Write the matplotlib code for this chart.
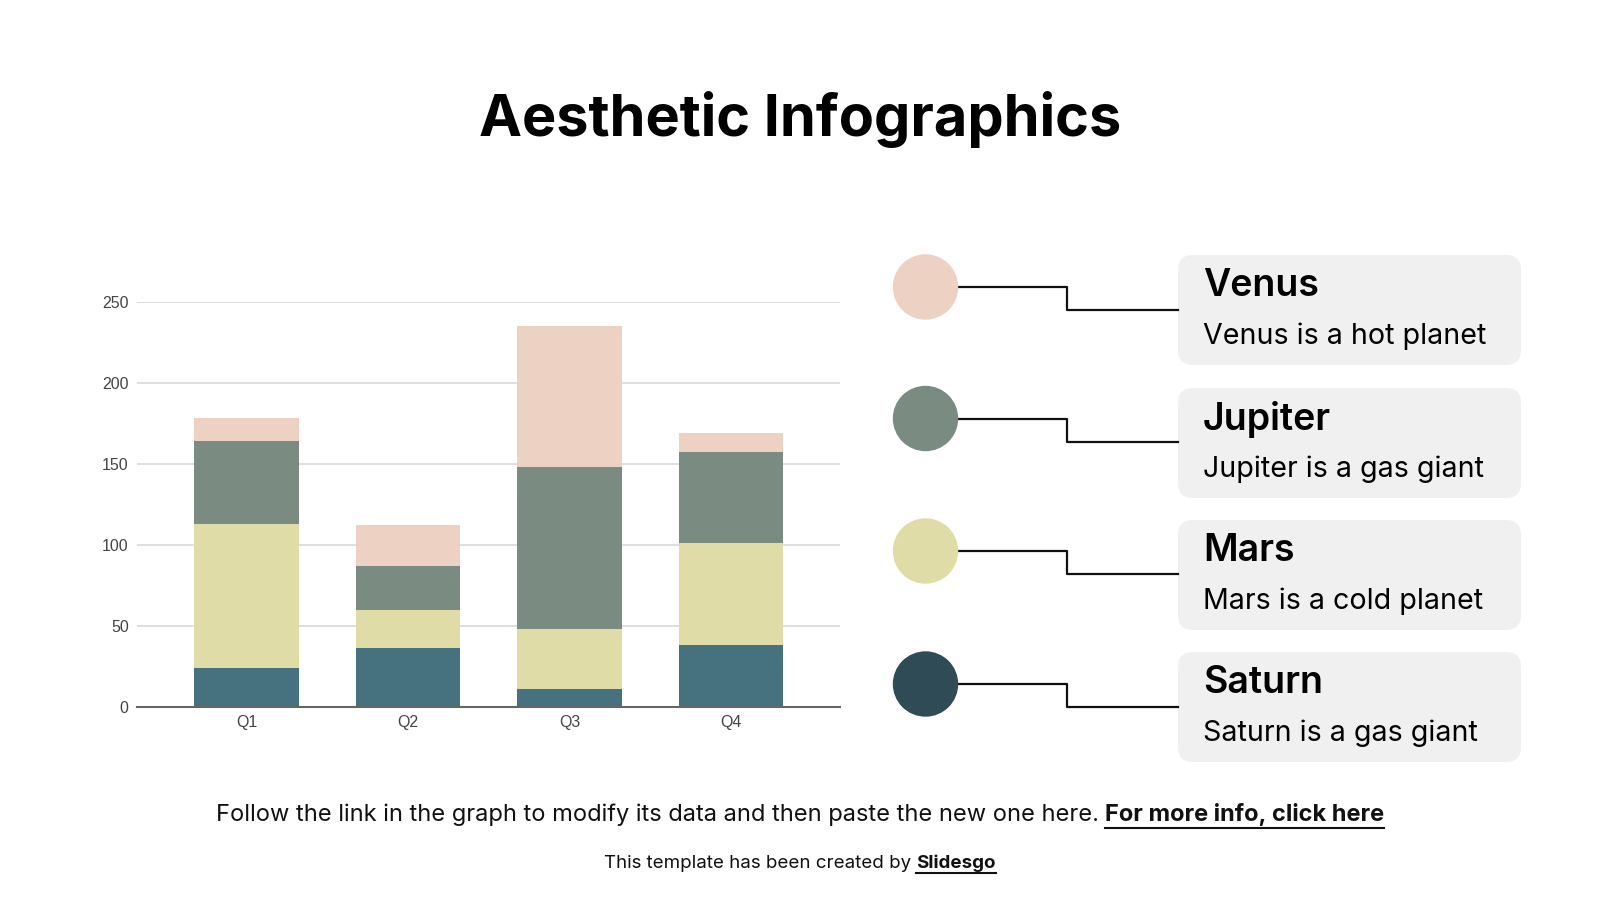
import numpy as np
import matplotlib
matplotlib.use("Agg")
from matplotlib import pyplot as plt
from matplotlib.patches import Circle, FancyBboxPatch

# Data
quarters = ['Q1', 'Q2', 'Q3', 'Q4']
saturn = [24, 36, 11, 38]
mars = [89, 24, 37, 63]
jupiter = [51, 27, 100, 56]
venus = [14, 25, 87, 12]
yticks = [0, 50, 100, 150, 200, 250]

planets = ['Venus', 'Jupiter', 'Mars', 'Saturn']
descriptions = ['Venus is a hot planet', 'Jupiter is a gas giant',
                'Mars is a cold planet', 'Saturn is a gas giant']

bar_colors = {'saturn': '#45727e', 'mars': '#dfdca8',
              'jupiter': '#7a8b82', 'venus': '#edd1c3'}
dot_colors = ['#edd1c3', '#7a8b82', '#dfdca8', '#2e4b56']

HEAD = 'Inter'
fig = plt.figure(figsize=(16, 9), dpi=100)
fig.patch.set_facecolor('white')

# ---- bar chart ----
ax = fig.add_axes([137 / 1600, 1 - 706.7 / 900, 703 / 1600, 405 / 900])
x = np.arange(len(quarters))
bottom = np.zeros(len(quarters))
for key, vals in [('saturn', saturn), ('mars', mars),
                  ('jupiter', jupiter), ('venus', venus)]:
    ax.bar(x, vals, width=0.65, bottom=bottom, color=bar_colors[key], zorder=3)
    bottom += np.array(vals)

ax.set_xlim(-0.678, 3.675)
ax.set_ylim(0, 250)
ax.set_yticks(yticks)
ax.set_xticks(x)
ax.set_xticklabels(quarters)
ax.grid(axis='y', color='#d9d9d9', linewidth=1.2, zorder=0)
for s in ['top', 'right', 'left']:
    ax.spines[s].set_visible(False)
ax.spines['bottom'].set_color('#666666')
ax.spines['bottom'].set_linewidth(1.5)
ax.spines['bottom'].set_zorder(4)
ax.tick_params(length=0, labelsize=11.5, labelcolor='#444444', pad=6)
for lab in ax.get_xticklabels() + ax.get_yticklabels():
    lab.set_family('Liberation Sans')

# ---- overlay in pixel coordinates ----
ov = fig.add_axes([0, 0, 1, 1], zorder=5)
ov.set_xlim(0, 1600)
ov.set_ylim(900, 0)
ov.axis('off')
ov.patch.set_alpha(0)

ov.text(800, 120, 'Aesthetic Infographics', ha='center', va='center',
        fontsize=41.5, fontweight='bold', family=HEAD, color='black')

dot_y = [287, 418.5, 551, 684]
box_top = [255, 388, 520, 652]
for i, name in enumerate(planets):
    cy = dot_y[i]
    ov.add_patch(Circle((925.5, cy), 32, color=dot_colors[i], zorder=3))
    ly = cy + 23
    ov.plot([957, 1067, 1067, 1178], [cy, cy, ly, ly], color='#111111',
            linewidth=1.6, zorder=2)
    ov.add_patch(FancyBboxPatch((1193, box_top[i] + 15), 313, 80,
                                boxstyle='round,pad=15', facecolor='#f0f0f0',
                                edgecolor='none', zorder=1))
    ov.text(1203, box_top[i] + 31, name, ha='left', va='center',
            fontsize=27, fontweight='semibold', family=HEAD, color='black', zorder=4)
    ov.text(1203, box_top[i] + 81, descriptions[i], ha='left', va='center',
            fontsize=20.6, family=HEAD, color='black', zorder=4)

# ---- footer lines with underlined bold parts ----
def footer(y, plain, bold, size):
    t1 = ov.text(0, y, plain, ha='left', va='center', fontsize=size,
                 family=HEAD, color='#111111')
    t2 = ov.text(0, y, bold, ha='left', va='center', fontsize=size,
                 fontweight='bold', family=HEAD, color='#111111')
    fig.canvas.draw()
    r = fig.canvas.get_renderer()
    w1 = t1.get_window_extent(r).width
    w2 = t2.get_window_extent(r).width
    gap = size * 0.35
    x0 = 800 - (w1 + gap + w2) / 2
    t1.set_x(x0)
    t2.set_x(x0 + w1 + gap)
    uy = y + size * 0.75
    ov.plot([x0 + w1 + gap, x0 + w1 + gap + w2], [uy, uy], color='#111111',
            linewidth=1.5)

footer(815, 'Follow the link in the graph to modify its data and then paste the new one here.',
       'For more info, click here', 17)
footer(863, 'This template has been created by', 'Slidesgo', 13.5)

fig.savefig('out.png', dpi=100, facecolor='white')
